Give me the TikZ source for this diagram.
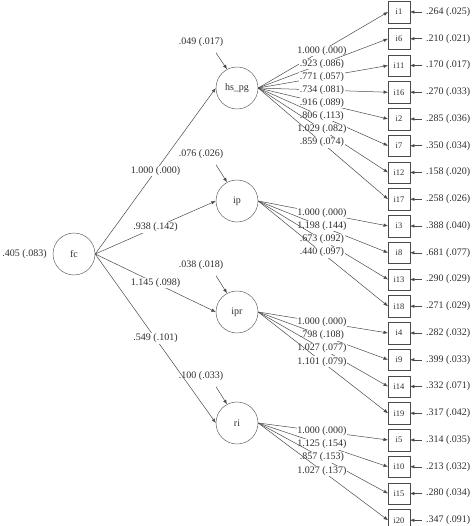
\documentclass[tikz,border=0pt]{standalone}
\usepackage{fontspec}
\setmainfont{Liberation Serif}
\usetikzlibrary{arrows.meta, positioning}
\definecolor{linegray}{HTML}{4A4A4A}
\definecolor{textgray}{HTML}{2E2E2E}

\begin{document}
\begin{tikzpicture}[
  x=1pt, y=-1pt,
  node distance=4.85pt,
  factor/.style={circle, draw=linegray, minimum size=42pt, inner sep=0pt, text=textgray, font=\fontsize{10}{12}\selectfont},
  item/.style={rectangle, draw=linegray, minimum size=21.5pt, inner sep=0pt, text=textgray, font=\fontsize{8.5}{10}\selectfont},
  est/.style={fill=white, inner sep=0.6pt, text=textgray, font=\fontsize{10}{12}\selectfont},
  resid/.style={inner xsep=4pt, inner ysep=1pt, text=textgray, font=\fontsize{10}{12}\selectfont},
  arrow/.style={-{Latex[length=4.5pt, width=3.5pt]}, color=linegray, line width=0.5pt}
]
  \useasboundingbox (0,0) rectangle (474,526);

  % latent factors
  \node[factor] (fc) at (74,254) {fc};
  \node[factor] (hspg) at (237,88) {hs\_pg};
  \node[factor] (ip) at (237,201) {ip};
  \node[factor] (ipr) at (237,312) {ipr};
  \node[factor] (ri) at (237,423) {ri};

  % indicators
  \node[item] (i1) at (399,12) {i1};
  \node[item, below=of i1] (i6) {i6};
  \node[item, below=of i6] (i11) {i11};
  \node[item, below=of i11] (i16) {i16};
  \node[item, below=of i16] (i2) {i2};
  \node[item, below=of i2] (i7) {i7};
  \node[item, below=of i7] (i12) {i12};
  \node[item, below=of i12] (i17) {i17};
  \node[item, below=of i17] (i3) {i3};
  \node[item, below=of i3] (i8) {i8};
  \node[item, below=of i8] (i13) {i13};
  \node[item, below=of i13] (i18) {i18};
  \node[item, below=of i18] (i4) {i4};
  \node[item, below=of i4] (i9) {i9};
  \node[item, below=of i9] (i14) {i14};
  \node[item, below=of i14] (i19) {i19};
  \node[item, below=of i19] (i5) {i5};
  \node[item, below=of i5] (i10) {i10};
  \node[item, below=of i10] (i15) {i15};
  \node[item, below=of i15] (i20) {i20};

  % residual variances
  \node[resid, left=2pt of fc] (efc) {.405 (.083)};
  \node[resid] (ehspg) at ([xshift=-36pt, yshift=46pt]hspg.center) {.049 (.017)};
  \node[resid] (eip) at ([xshift=-36pt, yshift=47pt]ip.center) {.076 (.026)};
  \node[resid] (eipr) at ([xshift=-36pt, yshift=47pt]ipr.center) {.038 (.018)};
  \node[resid] (eri) at ([xshift=-36pt, yshift=47pt]ri.center) {.100 (.033)};

  \node[resid, right=12pt of i1] (e1) {.264 (.025)};
  \node[resid, right=12pt of i6] (e6) {.210 (.021)};
  \node[resid, right=12pt of i11] (e11) {.170 (.017)};
  \node[resid, right=12pt of i16] (e16) {.270 (.033)};
  \node[resid, right=12pt of i2] (e2) {.285 (.036)};
  \node[resid, right=12pt of i7] (e7) {.350 (.034)};
  \node[resid, right=12pt of i12] (e12) {.158 (.020)};
  \node[resid, right=12pt of i17] (e17) {.258 (.026)};
  \node[resid, right=12pt of i3] (e3) {.388 (.040)};
  \node[resid, right=12pt of i8] (e8) {.681 (.077)};
  \node[resid, right=12pt of i13] (e13) {.290 (.029)};
  \node[resid, right=12pt of i18] (e18) {.271 (.029)};
  \node[resid, right=12pt of i4] (e4) {.282 (.032)};
  \node[resid, right=12pt of i9] (e9) {.399 (.033)};
  \node[resid, right=12pt of i14] (e14) {.332 (.071)};
  \node[resid, right=12pt of i19] (e19) {.317 (.042)};
  \node[resid, right=12pt of i5] (e5) {.314 (.035)};
  \node[resid, right=12pt of i10] (e10) {.213 (.032)};
  \node[resid, right=12pt of i15] (e15) {.280 (.034)};
  \node[resid, right=12pt of i20] (e20) {.347 (.091)};

  % second order paths
  \draw[arrow] (fc.east) -- node[est] {1.000 (.000)} (hspg.west);
  \draw[arrow] (fc.east) -- node[est] {.938 (.142)} (ip.west);
  \draw[arrow] (fc.east) -- node[est] {1.145 (.098)} (ipr.west);
  \draw[arrow] (fc.east) -- node[est] {.549 (.101)} (ri.west);

  \draw[arrow] ([xshift=15pt, yshift=-5pt]ehspg.south) -- (hspg.118);
  \draw[arrow] ([xshift=15pt, yshift=-5pt]eip.south) -- (ip.118);
  \draw[arrow] ([xshift=15pt, yshift=-5pt]eipr.south) -- (ipr.118);
  \draw[arrow] ([xshift=15pt, yshift=-5pt]eri.south) -- (ri.118);

  % loadings
  \draw[arrow] (hspg.east) -- node[est, pos=0.49] {1.000 (.000)} (i1.west);
  \draw[arrow] (hspg.east) -- node[est, pos=0.49] {.923 (.086)} (i6.west);
  \draw[arrow] (hspg.east) -- node[est, pos=0.49] {.771 (.057)} (i11.west);
  \draw[arrow] (hspg.east) -- node[est, pos=0.49] {.734 (.081)} (i16.west);
  \draw[arrow] (hspg.east) -- node[est, pos=0.49] {.916 (.089)} (i2.west);
  \draw[arrow] (hspg.east) -- node[est, pos=0.49] {.806 (.113)} (i7.west);
  \draw[arrow] (hspg.east) -- node[est, pos=0.49] {1.029 (.082)} (i12.west);
  \draw[arrow] (hspg.east) -- node[est, pos=0.49] {.859 (.074)} (i17.west);

  \draw[arrow] (ip.east) -- node[est, pos=0.49] {1.000 (.000)} (i3.west);
  \draw[arrow] (ip.east) -- node[est, pos=0.49] {1.198 (.144)} (i8.west);
  \draw[arrow] (ip.east) -- node[est, pos=0.49] {.673 (.092)} (i13.west);
  \draw[arrow] (ip.east) -- node[est, pos=0.49] {.440 (.097)} (i18.west);

  \draw[arrow] (ipr.east) -- node[est, pos=0.49] {1.000 (.000)} (i4.west);
  \draw[arrow] (ipr.east) -- node[est, pos=0.49] {.798 (.108)} (i9.west);
  \draw[arrow] (ipr.east) -- node[est, pos=0.49] {1.027 (.077)} (i14.west);
  \draw[arrow] (ipr.east) -- node[est, pos=0.49] {1.101 (.079)} (i19.west);

  \draw[arrow] (ri.east) -- node[est, pos=0.49] {1.000 (.000)} (i5.west);
  \draw[arrow] (ri.east) -- node[est, pos=0.49] {1.125 (.154)} (i10.west);
  \draw[arrow] (ri.east) -- node[est, pos=0.49] {.857 (.153)} (i15.west);
  \draw[arrow] (ri.east) -- node[est, pos=0.49] {1.027 (.137)} (i20.west);

  % item residual arrows
  \draw[arrow] (e1) -- (i1);
  \draw[arrow] (e6) -- (i6);
  \draw[arrow] (e11) -- (i11);
  \draw[arrow] (e16) -- (i16);
  \draw[arrow] (e2) -- (i2);
  \draw[arrow] (e7) -- (i7);
  \draw[arrow] (e12) -- (i12);
  \draw[arrow] (e17) -- (i17);
  \draw[arrow] (e3) -- (i3);
  \draw[arrow] (e8) -- (i8);
  \draw[arrow] (e13) -- (i13);
  \draw[arrow] (e18) -- (i18);
  \draw[arrow] (e4) -- (i4);
  \draw[arrow] (e9) -- (i9);
  \draw[arrow] (e14) -- (i14);
  \draw[arrow] (e19) -- (i19);
  \draw[arrow] (e5) -- (i5);
  \draw[arrow] (e10) -- (i10);
  \draw[arrow] (e15) -- (i15);
  \draw[arrow] (e20) -- (i20);
\end{tikzpicture}
\end{document}
